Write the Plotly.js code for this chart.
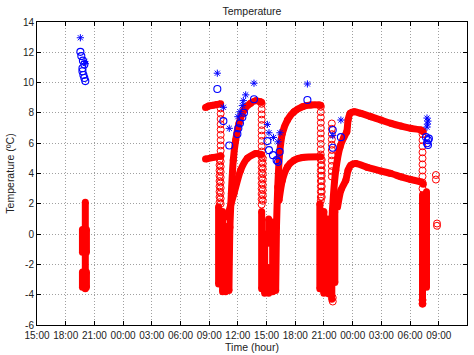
<!DOCTYPE html>
<html>
<head>
<meta charset="utf-8">
<script src="https://cdn.plot.ly/plotly-3.0.1.min.js"></script>
<style>html,body{margin:0;padding:0;background:#fff}#chart{width:474px;height:355px}</style>
</head>
<body>
<div id="chart"></div>
<script>
// ---------- Blue sensor readings ----------
const blueCircleTime = ['2024-01-01 19:32','2024-01-01 19:38','2024-01-01 19:48','2024-01-01 19:57','2024-01-01 19:45','2024-01-01 19:45','2024-01-01 19:51','2024-01-01 19:57','2024-01-01 20:03',
  '2024-01-02 09:51','2024-01-02 10:29','2024-01-02 11:06','2024-01-02 11:57','2024-01-02 12:03','2024-01-02 12:13','2024-01-02 12:28','2024-01-02 12:38','2024-01-02 13:41',
  '2024-01-02 15:05','2024-01-02 15:15','2024-01-02 15:40','2024-01-02 16:03','2024-01-02 16:12','2024-01-02 16:22','2024-01-02 19:16','2024-01-02 21:55','2024-01-02 21:55','2024-01-02 22:46',
  '2024-01-03 07:40','2024-01-03 07:52','2024-01-03 07:46','2024-01-03 07:52','2024-01-03 07:58'];
const blueCircleTemp = [12.03,11.75,11.45,11.2,10.95,10.75,10.5,10.3,10.1,
  9.58,7.46,5.85,6.6,6.98,7.31,7.71,8.01,8.9,
  6.14,5.54,5.21,4.88,4.77,5.43,8.85,6.87,5.7,6.4,
  6.4,6.2,6.0,5.88,6.3];
const blueStarTime = ['2024-01-01 19:32','2024-01-01 20:03','2024-01-01 20:00',
  '2024-01-02 09:51','2024-01-02 10:29','2024-01-02 11:06','2024-01-02 12:00','2024-01-02 12:13','2024-01-02 12:28','2024-01-02 12:34','2024-01-02 12:49','2024-01-02 13:41',
  '2024-01-02 15:05','2024-01-02 15:15','2024-01-02 15:43','2024-01-02 16:12','2024-01-02 16:24','2024-01-02 19:16','2024-01-02 22:46','2024-01-02 21:55',
  '2024-01-03 07:46','2024-01-03 07:52','2024-01-03 07:49','2024-01-03 07:46'];
const blueStarTemp = [12.96,11.25,11.4,
  10.62,8.37,6.98,7.75,8.08,8.48,8.81,9.19,9.96,
  7.24,6.69,6.38,6.09,6.69,9.91,7.53,6.5,
  7.66,7.46,7.26,7.06];

// ---------- Red sensor: smooth warming / cooling curves (null = break) ----------
const redCurveTime = [
  '2024-01-02 08:37','2024-01-02 08:56','2024-01-02 09:21','2024-01-02 09:47','2024-01-02 10:12', null,
  '2024-01-02 08:37','2024-01-02 09:21','2024-01-02 10:12', null,
  '2024-01-02 11:04','2024-01-02 11:10','2024-01-02 11:19','2024-01-02 11:31','2024-01-02 11:46','2024-01-02 12:07','2024-01-02 12:38','2024-01-02 13:20','2024-01-02 13:52','2024-01-02 14:19','2024-01-02 14:29', null,
  '2024-01-02 10:54','2024-01-02 11:35','2024-01-02 12:17','2024-01-02 12:59','2024-01-02 13:52','2024-01-02 14:29', null,
  '2024-01-02 15:57','2024-01-02 16:02','2024-01-02 16:10','2024-01-02 16:22','2024-01-02 16:39','2024-01-02 17:11','2024-01-02 17:52','2024-01-02 18:45','2024-01-02 19:37','2024-01-02 20:29','2024-01-02 20:40', null,
  '2024-01-02 16:18','2024-01-02 16:39','2024-01-02 17:11','2024-01-02 17:52','2024-01-02 18:45','2024-01-02 20:40', null,
  '2024-01-02 21:32','2024-01-02 21:53','2024-01-02 22:14','2024-01-02 22:41','2024-01-02 23:06','2024-01-02 23:23','2024-01-02 23:31','2024-01-02 23:44','2024-01-03 00:09','2024-01-03 00:51','2024-01-03 01:54','2024-01-03 02:57','2024-01-03 04:00','2024-01-03 05:03','2024-01-03 06:05','2024-01-03 07:08','2024-01-03 07:23', null,
  '2024-01-02 22:25','2024-01-02 22:46','2024-01-02 23:17','2024-01-02 23:31','2024-01-02 23:48','2024-01-03 00:20','2024-01-03 01:33','2024-01-03 02:57','2024-01-03 04:00','2024-01-03 05:03','2024-01-03 06:05','2024-01-03 07:08','2024-01-03 07:23'];
const redCurveTemp = [
  8.35,8.45,8.5,8.55,8.6, null,
  4.95,5.05,5.15, null,
  -3.73,0.46,2.68,4.88,6.2,7.31,8.19,8.64,8.81,8.74,8.7, null,
  1.13,2.67,4.22,5.0,5.32,5.25, null,
  -3.73,0.46,3.11,5.32,6.65,7.53,8.08,8.41,8.52,8.52,8.5, null,
  2.23,3.56,4.44,4.88,5.06,5.1, null,
  -3.95,1.57,4.22,5.76,6.42,6.75,7.53,7.97,8.08,7.97,7.75,7.53,7.31,7.13,6.98,6.87,6.75, null,
  1.79,2.9,3.56,4.22,4.55,4.66,4.4,4.16,4.0,3.78,3.6,3.44,3.29];

// ---------- Red sensor: dense bands of overlapping readings ----------
const redBandTime = [
  '2024-01-01 20:03','2024-01-01 20:03', null,
  '2024-01-01 19:45','2024-01-01 19:45', null,'2024-01-01 20:10','2024-01-01 20:10', null,
  '2024-01-01 19:45','2024-01-01 19:45', null,'2024-01-01 20:10','2024-01-01 20:10', null,
  '2024-01-02 09:59','2024-01-02 09:59', null,'2024-01-02 10:24','2024-01-02 10:24', null,'2024-01-02 10:43','2024-01-02 10:43', null,'2024-01-02 10:56','2024-01-02 10:56', null,
  '2024-01-02 14:29','2024-01-02 14:29', null,'2024-01-02 14:48','2024-01-02 14:48', null,'2024-01-02 15:13','2024-01-02 15:13', null,'2024-01-02 15:13','2024-01-02 15:13', null,'2024-01-02 15:38','2024-01-02 15:38', null,
  '2024-01-02 20:34','2024-01-02 20:34', null,'2024-01-02 20:59','2024-01-02 20:59', null,'2024-01-02 21:24','2024-01-02 21:24', null,'2024-01-02 21:49','2024-01-02 21:49', null,'2024-01-02 22:08','2024-01-02 22:08', null,
  '2024-01-03 07:18','2024-01-03 07:18', null,'2024-01-03 07:43','2024-01-03 07:43'];
const redBandTemp = [
  2.1,-3.6, null,
  0.3,-1.2, null,0.3,-1.2, null,
  -2.5,-3.5, null,-2.5,-3.5, null,
  1.8,-3.3, null,1.5,-3.8, null,0.5,-3.8, null,0.5,-3.7, null,
  1.5,-3.6, null,0.0,-3.9, null,1.0,-0.6, null,-2.2,-3.9, null,0.8,-3.8, null,
  2.0,-3.6, null,1.5,-3.9, null,1.0,-3.9, null,0.0,-4.3, null,1.5,-3.2, null,
  2.6,-4.6, null,2.8,-3.5];

// ---------- Red sensor: separate readings during the fast drops ----------
const dropATime = '2024-01-02 10:12';
const dropATemp = [8.3,7.95,7.6,7.25,6.9,6.55,6.2,5.85,5.5,5.15,4.8,4.45,4.1,3.75,3.4,3.05,2.7,2.35,2.0];
const dropA2Time = '2024-01-02 10:05';
const dropA2Temp = [4.9,4.55,4.2,3.85,3.5,3.15,2.8,2.45,2.1];
const dropBTime = '2024-01-02 14:29';
const dropBTemp = [8.6,8.25,7.9,7.55,7.2,6.85,6.5,6.15,5.8,5.45,5.1,4.75,4.4,4.05,3.7,3.35,3.0,2.65,2.3,1.95];
const dropB2Time = '2024-01-02 14:36';
const dropB2Temp = [5.0,4.65,4.3,3.95,3.6,3.25,2.9,2.55,2.2];
const dropCTime = '2024-01-02 20:40';
const dropCTemp = [8.4,8.05,7.7,7.35,7.0,6.65,6.3,5.95,5.6,5.25,4.9,4.55,4.2,3.85,3.5,3.15,2.8,2.45,2.2];
const dropC2Time = '2024-01-02 20:46';
const dropC2Temp = [4.9,4.55,4.2,3.85,3.5,3.15,2.8,2.45];
const dropDTime = '2024-01-02 21:49';
const dropDTemp = [7.3,6.95,6.6,6.25,5.9,5.55,5.2,4.85,4.5,4.15,3.8];
const dropETime = '2024-01-03 07:18';
const dropETemp = [6.6,6.2,5.8,5.4,5.0,4.6,4.2,3.8,3.4,3.0];
const strayTime = ['2024-01-03 08:42','2024-01-03 08:42','2024-01-03 08:49','2024-01-03 08:49','2024-01-02 21:55','2024-01-02 21:55','2024-01-03 07:18','2024-01-03 07:18'];
const strayTemp = [3.9,3.6,0.7,0.55,-4.2,-4.45,-4.35,-4.6];

const xTick0 = '2024-01-01 15:00';
const xRange = ['2024-01-01 15:00','2024-01-03 11:57'];
const yTicks = [-6,-4,-2,0,2,4,6,8,10,12,14];

// build column traces
const colX = [], colY = [];
[[dropATime,dropATemp],[dropA2Time,dropA2Temp],[dropBTime,dropBTemp],[dropB2Time,dropB2Temp],
 [dropCTime,dropCTemp],[dropC2Time,dropC2Temp],[dropDTime,dropDTemp],[dropETime,dropETemp]]
 .forEach(([t,arr]) => arr.forEach(v => { colX.push(t); colY.push(v); }));
strayTime.forEach((t,i) => { colX.push(t); colY.push(strayTemp[i]); });

const RED = '#ff0000', BLUE = '#0000ff';
const traces = [
  {x: redBandTime, y: redBandTemp, mode: 'lines+markers', line: {color: RED, width: 7}, marker: {symbol: 'circle', size: 7, color: RED}, connectgaps: false},
  {x: redCurveTime, y: redCurveTemp, mode: 'lines+markers', line: {color: RED, width: 7, shape: 'spline', smoothing: 0.6}, marker: {symbol: 'circle', size: 7, color: RED}, connectgaps: false},
  {x: colX, y: colY, mode: 'markers', marker: {symbol: 'circle-open', size: 7, color: RED, line: {width: 1}}},
  {x: blueCircleTime, y: blueCircleTemp, mode: 'markers', marker: {symbol: 'circle-open', size: 7, color: BLUE, line: {width: 1.1}}},
  {x: blueStarTime, y: blueStarTemp, mode: 'markers', marker: {symbol: 'asterisk-open', size: 6, color: BLUE, line: {width: 1, color: BLUE}}}
];

const FAM = '"Liberation Sans", Arial, sans-serif';
const layout = {
  width: 474, height: 355,
  margin: {l: 37, r: 7, t: 22, b: 30, pad: 0},
  paper_bgcolor: '#fff', plot_bgcolor: '#fff',
  showlegend: false,
  font: {family: FAM, size: 10, color: '#222'},
  title: {text: 'Temperature', font: {family: FAM, size: 10.5, color: '#222'}, x: 0.5315, xanchor: 'center', y: 0.969, yanchor: 'middle'},
  xaxis: {
    type: 'date', range: xRange, tick0: xTick0, dtick: 3*3600*1000, tickformat: '%H:%M', tickangle: 0,
    ticks: 'inside', ticklen: 4, tickcolor: '#000', mirror: 'ticks', showline: true, linecolor: '#000', linewidth: 1,
    showgrid: true, gridcolor: '#a0a0a0', griddash: '1px,2px', gridwidth: 1, zeroline: false,
    tickfont: {family: FAM, size: 10, color: '#222'}, ticklabelstandoff: 1,
    title: {text: 'Time (hour)', font: {family: FAM, size: 10.5, color: '#222'}, standoff: 3},
    automargin: false
  },
  yaxis: {
    range: [-6, 14], tickvals: yTicks, ticktext: yTicks.map(String),
    ticks: 'inside', ticklen: 4, tickcolor: '#000', mirror: 'ticks', showline: true, linecolor: '#000', linewidth: 1,
    showgrid: true, gridcolor: '#a0a0a0', griddash: '1px,2px', gridwidth: 1, zeroline: false,
    tickfont: {family: FAM, size: 10, color: '#222'},
    title: {text: 'Temperature (ºC)', font: {family: FAM, size: 10.5, color: '#222'}, standoff: 6},
    automargin: false
  }
};
Plotly.newPlot('chart', traces, layout, {staticPlot: true, displayModeBar: false});
</script>
</body>
</html>
